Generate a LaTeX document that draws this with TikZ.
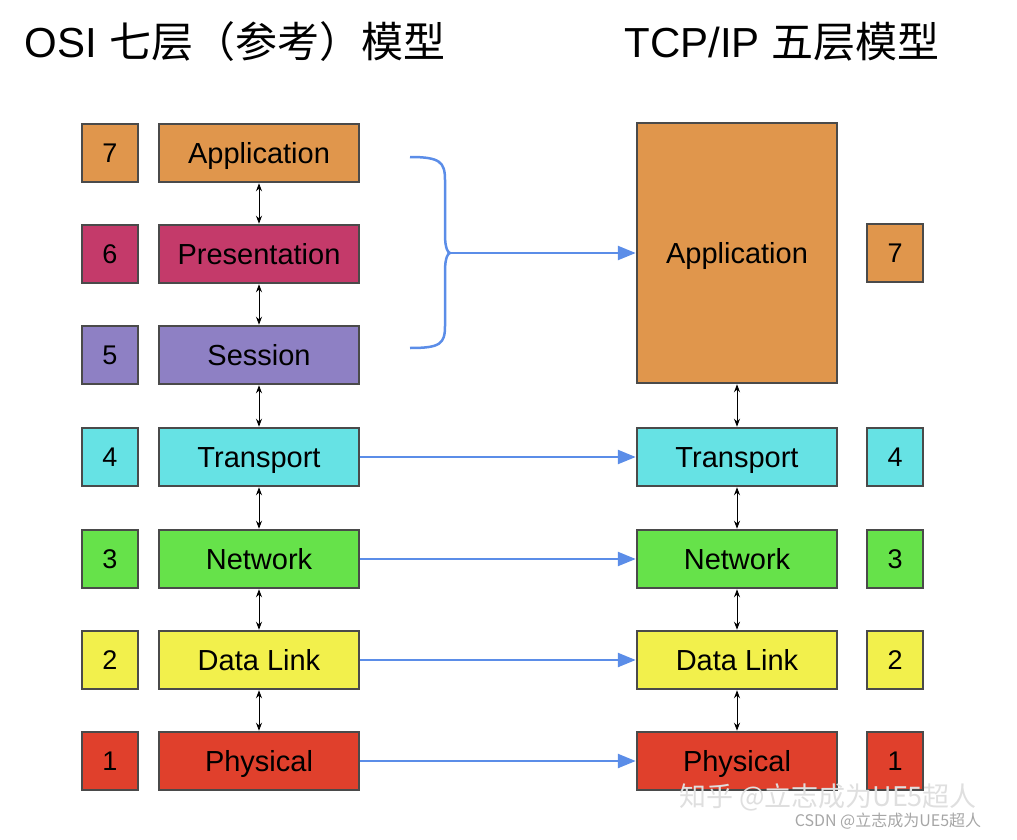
\documentclass[tikz,border=0pt]{standalone}
\usepackage{fontspec}
\setmainfont{Liberation Sans}
\newfontfamily\cjk{Noto Sans CJK SC}
\usetikzlibrary{positioning,calc,arrows.meta}
\definecolor{appcol}{HTML}{E0964C}
\definecolor{prescol}{HTML}{C43A6A}
\definecolor{sesscol}{HTML}{8E80C4}
\definecolor{transcol}{HTML}{66E2E4}
\definecolor{netcol}{HTML}{66E24A}
\definecolor{linkcol}{HTML}{F2F04C}
\definecolor{physcol}{HTML}{E0402C}
\definecolor{arrowblue}{HTML}{5B8DE8}
\definecolor{edgecol}{HTML}{4A4A4A}
\begin{document}
\begin{tikzpicture}[x=1pt,y=-1pt,
                layer/.style={draw=edgecol,line width=2.5pt,minimum width=200pt,minimum height=58pt,font=\fontsize{29}{30}\selectfont,inner sep=0pt,text height=20pt,text depth=0pt},
                num/.style={draw=edgecol,line width=2.5pt,minimum width=56pt,minimum height=58pt,font=\fontsize{27}{30}\selectfont,inner sep=0pt,text height=19pt,text depth=0pt},
                link/.style={<->,>={Stealth[length=8pt,width=6pt]},line width=1pt},
                map/.style={->,>={Triangle[length=18pt,width=14pt]},arrowblue,line width=2.5pt}]
\useasboundingbox (0,0) rectangle (1017,840);
%Titles
    \node at (235,42) {\fontsize{42}{46}\selectfont OSI {\cjk 七层（参考）模型}};
    \node at (782,42) {\fontsize{42}{46}\selectfont TCP/IP {\cjk 五层模型}};
%OSI nodes
    \node[num,fill=appcol] (n7) at (110,153) {7};
    \node[num,fill=prescol] (n6) at (110,254) {6};
    \node[num,fill=sesscol] (n5) at (110,355) {5};
    \node[num,fill=transcol] (n4) at (110,457) {4};
    \node[num,fill=netcol] (n3) at (110,559) {3};
    \node[num,fill=linkcol] (n2) at (110,660) {2};
    \node[num,fill=physcol] (n1) at (110,761) {1};
    \node[layer,fill=appcol] (app) at (259,153) {Application};
    \node[layer,fill=prescol] (pres) at (259,254) {Presentation};
    \node[layer,fill=sesscol] (sess) at (259,355) {Session};
    \node[layer,fill=transcol] (trans) at (259,457) {Transport};
    \node[layer,fill=netcol] (net) at (259,559) {Network};
    \node[layer,fill=linkcol] (dlink) at (259,660) {Data Link};
    \node[layer,fill=physcol] (phys) at (259,761) {Physical};
%TCP/IP nodes
    \node[layer,fill=appcol,minimum height=260pt] (tapp) at (737,253) {Application};
    \node[layer,fill=transcol] (ttrans) at (737,457) {Transport};
    \node[layer,fill=netcol] (tnet) at (737,559) {Network};
    \node[layer,fill=linkcol] (tdlink) at (737,660) {Data Link};
    \node[layer,fill=physcol] (tphys) at (737,761) {Physical};
    \node[num,fill=appcol] (t7) at (895,253) {7};
    \node[num,fill=transcol] (t4) at (895,457) {4};
    \node[num,fill=netcol] (t3) at (895,559) {3};
    \node[num,fill=linkcol] (t2) at (895,660) {2};
    \node[num,fill=physcol] (t1) at (895,761) {1};

    \draw[link] (app) -- (pres);
    \draw[link] (pres) -- (sess);
    \draw[link] (sess) -- (trans);
    \draw[link] (trans) -- (net);
    \draw[link] (net) -- (dlink);
    \draw[link] (dlink) -- (phys);
    \draw[link] (tapp) -- (ttrans);
    \draw[link] (ttrans) -- (tnet);
    \draw[link] (tnet) -- (tdlink);
    \draw[link] (tdlink) -- (tphys);
%brace
    \coordinate (btip) at (450,253);
    \draw[arrowblue,line width=2.5pt] (410,157) .. controls (440,157) and (445,162) .. (445,180) -- (445,235) .. controls (445,248) and (448,253) .. (btip)
        .. controls (448,253) and (445,258) .. (445,271) -- (445,326) .. controls (445,344) and (440,348) .. (410,348);
    \draw[map] (btip) -- (tapp.west|-btip);
    \draw[map] (trans) -- (ttrans);
    \draw[map] (net) -- (tnet);
    \draw[map] (dlink) -- (tdlink);
    \draw[map] (phys) -- (tphys);
%watermarks
    \node[text=gray!25,font=\cjk\fontsize{27}{28}\selectfont] (wm1) at (828,797) {知乎 @立志成为UE5超人};
    \node[text=gray!70,font=\cjk\fontsize{16}{18}\selectfont] (wm2) at (888,821) {CSDN @立志成为UE5超人};
\end{tikzpicture}
\end{document}
